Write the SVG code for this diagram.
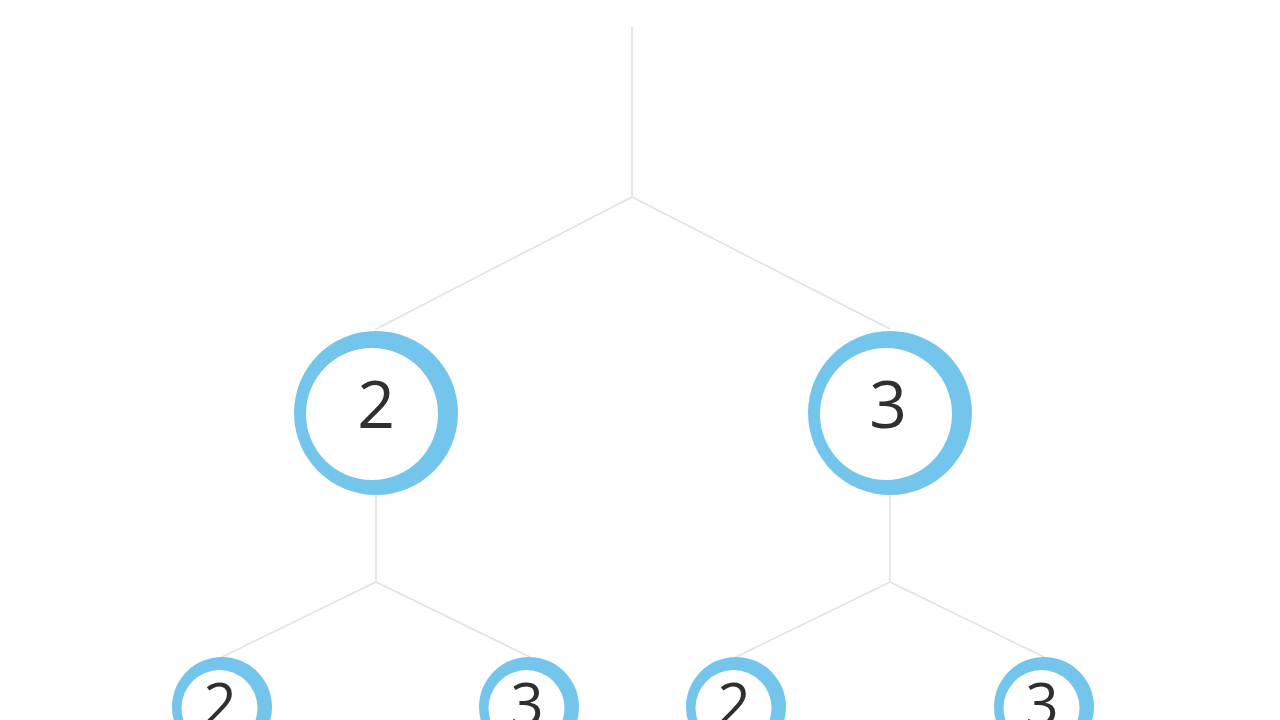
<svg xmlns="http://www.w3.org/2000/svg" width="1280" height="720" viewBox="0 0 1280 720">
<style>
.edge{stroke:#e2e2e2;stroke-width:1.6;fill:none;stroke-linecap:round}
.ring{fill:#74c5ec}
.hole{fill:#ffffff}
.lbl{font-family:"Open Sans","Liberation Sans",sans-serif;font-weight:400;fill:#2f2f2f;text-anchor:middle}
</style>
<rect width="1280" height="720" fill="#ffffff"/>
<g id="connectors">
<path class="edge" d="M632,27 L632,197 M632,197 L376,329 M632,197 L890,329"/>
<path class="edge" d="M376,496 L376,582 L222,657 M376,582 L530,657"/>
<path class="edge" d="M890,496 L890,582 L736,657 M890,582 L1044,657"/>
</g>
<g id="n2">
<circle class="ring" cx="376" cy="413" r="82"/>
<circle class="hole" cx="372" cy="414" r="66"/>
<text class="lbl" x="376" y="428" font-size="66">2</text>
</g>
<g id="n3">
<circle class="ring" cx="890" cy="413" r="82"/>
<circle class="hole" cx="886" cy="414" r="66"/>
<text class="lbl" x="888" y="428" font-size="66">3</text>
</g>
<g id="n2-2">
<circle class="ring" cx="222" cy="707" r="50"/>
<circle class="hole" cx="219.5" cy="708" r="38"/>
<text class="lbl" x="220" y="725" font-size="58">2</text>
</g>
<g id="n2-3">
<circle class="ring" cx="529" cy="707" r="50"/>
<circle class="hole" cx="526.5" cy="708" r="38"/>
<text class="lbl" x="527" y="725" font-size="58">3</text>
</g>
<g id="n3-2">
<circle class="ring" cx="736" cy="707" r="50"/>
<circle class="hole" cx="733.5" cy="708" r="38"/>
<text class="lbl" x="734" y="725" font-size="58">2</text>
</g>
<g id="n3-3">
<circle class="ring" cx="1044" cy="707" r="50"/>
<circle class="hole" cx="1041.5" cy="708" r="38"/>
<text class="lbl" x="1042" y="725" font-size="58">3</text>
</g>
</svg>
